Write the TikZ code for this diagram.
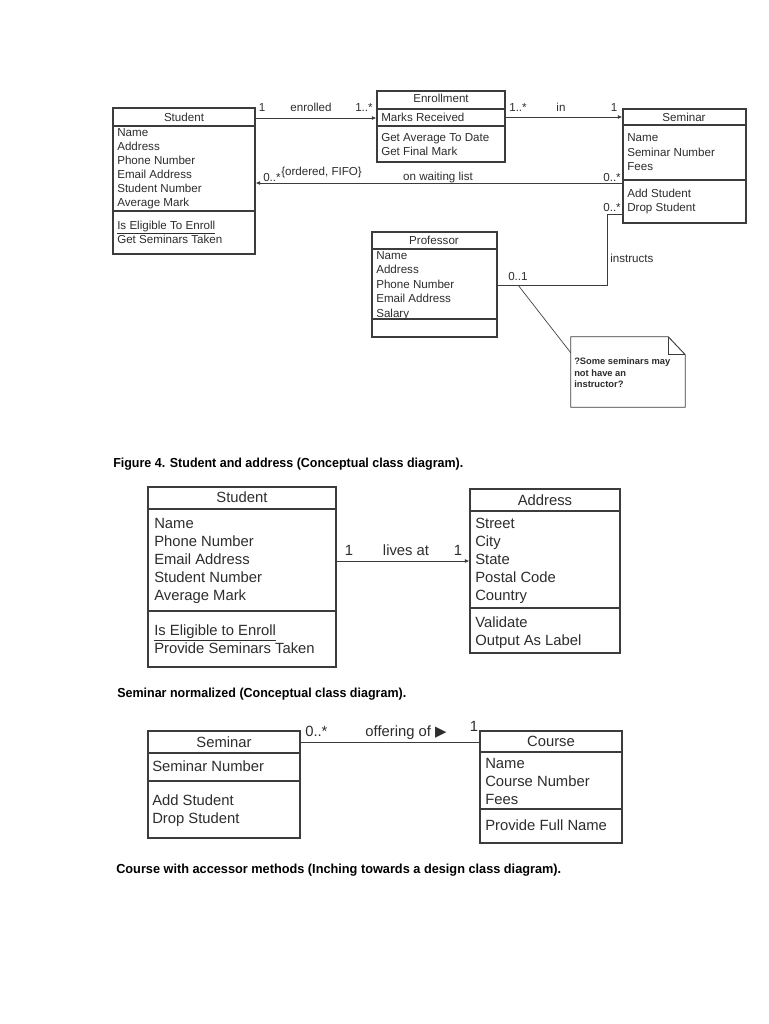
\documentclass[tikz,border=0pt]{standalone}
\usepackage{fontspec}
\setmainfont{Liberation Sans}
\newfontfamily\dejavu{DejaVu Sans}
\usetikzlibrary{fit,calc,arrows.meta}
\definecolor{txt}{RGB}{45,45,45}
\definecolor{linec}{RGB}{60,60,60}
\tikzset{
 cls/.style={draw=linec, line width=0.8pt, inner sep=0pt},
 sep/.style={draw=linec, line width=0.8pt},
 assoc/.style={draw=linec, line width=0.7pt},
 arr/.style={-{Latex[length=3.5pt,width=3pt]}},
 sm/.style={font=\fontsize{8.7}{10}\selectfont, text=txt, inner sep=0pt},
 lg/.style={font=\fontsize{11.1}{13}\selectfont, text=txt, inner sep=0pt},
 nt/.style={font=\fontsize{7}{8}\selectfont\bfseries, text=txt, inner sep=0pt, anchor=base west},
 captxt/.style={font=\fontsize{9.8}{12}\selectfont\bfseries, text=black, inner sep=0pt, anchor=base west},
}
\newcommand\capbox[2]{\resizebox{#1}{\height}{#2}}

\begin{document}
\begin{tikzpicture}[x=0.75pt,y=-0.75pt]
\fill[white] (0,0) rectangle (768,1024);
\useasboundingbox (0,0) rectangle (768,1024);

% ---------- Diagram 1 ----------
% Student
\node[cls, fit={(113,108)(255,254)}] (stu) {};
\draw[sep] (stu.west |- 0,126) -- (stu.east |- 0,126);
\draw[sep] (stu.west |- 0,211) -- (stu.east |- 0,211);
\node[sm, anchor=base] (stuH) at (184,121) {Student};
\foreach \t [count=\i] in {Name,Address,Phone Number,Email Address,Student Number,Average Mark}
  \node[sm, anchor=base west] (stuA\i) at (117,{136+14*(\i-1)}) {\t};
\node[sm, anchor=base west] (stuM1) at (117,229) {\underline{Is Eligible To Enroll}};
\node[sm, anchor=base west] (stuM2) at (117,243) {Get Seminars Taken};

% Enrollment
\node[cls, fit={(377,91)(505,162)}] (enr) {};
\draw[sep] (enr.west |- 0,109) -- (enr.east |- 0,109);
\draw[sep] (enr.west |- 0,126) -- (enr.east |- 0,126);
\node[sm, anchor=base] (enrH) at (441,103) {Enrollment};
\node[sm, anchor=base west] (enrA1) at (381,121) {Marks Received};
\node[sm, anchor=base west] (enrM1) at (381,141) {Get Average To Date};
\node[sm, anchor=base west] (enrM2) at (381,155) {Get Final Mark};

% Seminar
\node[cls, fit={(623,109)(746,223)}] (sem) {};
\draw[sep] (sem.west |- 0,125) -- (sem.east |- 0,125);
\draw[sep] (sem.west |- 0,180) -- (sem.east |- 0,180);
\node[sm, anchor=base] (semH) at (684,121) {Seminar};
\foreach \t [count=\i] in {Name,Seminar Number,Fees}
  \node[sm, anchor=base west] (semA\i) at (627,{142+14*(\i-1)}) {\t};
\node[sm, anchor=base west] (semM1) at (627,197) {Add Student};
\node[sm, anchor=base west] (semM2) at (627,211) {Drop Student};

% Professor
\node[cls, fit={(372,232)(497,337)}] (prof) {};
\draw[sep] (prof.west |- 0,249) -- (prof.east |- 0,249);
\draw[sep] (prof.west |- 0,319) -- (prof.east |- 0,319);
\node[sm, anchor=base] (profH) at (434,244) {Professor};
\foreach \t [count=\i] in {Name,Address,Phone Number,Email Address,Salary}
  \node[sm, anchor=base west] (profA\i) at (376,{259+14.5*(\i-1)}) {\t};

% associations
\draw[assoc, arr] (stu.east |- 0,118) -- (enr.west |- 0,118);
\node[sm, anchor=base] (l1a) at (262,112) {1};
\node[sm, anchor=base] (l1b) at (311,112) {enrolled};
\node[sm, anchor=base] (l1c) at (364,111) {1..*};

\draw[assoc, arr] (enr.east |- 0,117) -- (sem.west |- 0,117);
\node[sm, anchor=base] (l2a) at (518,111) {1..*};
\node[sm, anchor=base] (l2b) at (561,111) {in};
\node[sm, anchor=base] (l2c) at (614,111) {1};

\draw[assoc, arr] (sem.west |- 0,183) -- (stu.east |- 0,183);
\node[sm, anchor=base west] (l3a) at (263,181) {0..*};
\node[sm, anchor=base west] (l3b) at (281,175) {\{ordered, FIFO\}};
\node[sm, anchor=base] (l3c) at (438,180) {on waiting list};
\node[sm, anchor=base east] (l3d) at (621,181) {0..*};

\coordinate (ib1) at (607,214);
\coordinate (ib2) at (607,285);
\draw[assoc] (sem.west |- 0,214) -- (ib1) -- (ib2) -- (prof.east |- 0,285);
\node[sm, anchor=base east] (l4a) at (621,211) {0..*};
\node[sm, anchor=base west] (l4b) at (610,262) {instructs};
\node[sm, anchor=base west] (l4c) at (508,280) {0..1};

% Note
\node[inner sep=0pt, fit={(571,337)(685,407)}] (note) {};
\draw[assoc] (note.north west) -- ($(note.north east)+(-17,0)$) -- ($(note.north east)+(0,18)$) -- (note.south east) -- (note.south west) -- cycle;
\draw[assoc] ($(note.north east)+(-17,0)$) -- ($(note.north east)+(-17,18)$) -- ($(note.north east)+(0,18)$);
\node[nt] (nt1) at (574,364) {?Some seminars may};
\node[nt] (nt2) at (574,376) {not have an};
\node[nt] (nt3) at (574,387) {instructor?};
\coordinate (nc) at (518,285);
\draw[assoc, line width=0.5pt] (nc) -- ($(note.north west)+(0,16)$);

% ---------- Caption 1 ----------
\node[captxt] (cap1) at (113,467) {\capbox{262.5pt}{Figure 4. Student and address (Conceptual class diagram).}};

% ---------- Diagram 2 ----------
\node[cls, fit={(148,487)(336,667)}] (stu2) {};
\draw[sep] (stu2.west |- 0,509) -- (stu2.east |- 0,509);
\draw[sep] (stu2.west |- 0,611) -- (stu2.east |- 0,611);
\node[lg, anchor=base] (stu2H) at (242,502) {Student};
\foreach \t [count=\i] in {Name,Phone Number,Email Address,Student Number,Average Mark}
  \node[lg, anchor=base west] (stu2A\i) at (154,{528+18*(\i-1)}) {\t};
\node[lg, anchor=base west] (stu2M1) at (154,635) {\underline{Is Eligible to Enroll}};
\node[lg, anchor=base west] (stu2M2) at (154,653) {Provide Seminars Taken};

\node[cls, fit={(470,489)(620,653)}] (adr) {};
\draw[sep] (adr.west |- 0,511) -- (adr.east |- 0,511);
\draw[sep] (adr.west |- 0,608) -- (adr.east |- 0,608);
\node[lg, anchor=base] (adrH) at (545,505) {Address};
\foreach \t [count=\i] in {Street,City,State,Postal Code,Country}
  \node[lg, anchor=base west] (adrA\i) at (475,{528+18*(\i-1)}) {\t};
\node[lg, anchor=base west] (adrM1) at (475,627) {Validate};
\node[lg, anchor=base west] (adrM2) at (475,645) {Output As Label};

\draw[assoc, arr] (stu2.east |- 0,561) -- (adr.west |- 0,561);
\node[lg, anchor=base] (l5a) at (349,555) {1};
\node[lg, anchor=base] (l5b) at (406,555) {lives at};
\node[lg, anchor=base] (l5c) at (458,555) {1};

% ---------- Caption 2 ----------
\node[captxt] (cap2) at (117,697) {\capbox{216.75pt}{Seminar normalized (Conceptual class diagram).}};

% ---------- Diagram 3 ----------
\node[cls, fit={(148,731)(300,838)}] (sem3) {};
\draw[sep] (sem3.west |- 0,753) -- (sem3.east |- 0,753);
\draw[sep] (sem3.west |- 0,781) -- (sem3.east |- 0,781);
\node[lg, anchor=base] (sem3H) at (224,747) {Seminar};
\node[lg, anchor=base west] (sem3A1) at (152,771) {Seminar Number};
\node[lg, anchor=base west] (sem3M1) at (152,805) {Add Student};
\node[lg, anchor=base west] (sem3M2) at (152,823) {Drop Student};

\node[cls, fit={(480,731)(622,843)}] (crs) {};
\draw[sep] (crs.west |- 0,752) -- (crs.east |- 0,752);
\draw[sep] (crs.west |- 0,809) -- (crs.east |- 0,809);
\node[lg, anchor=base] (crsH) at (551,746) {Course};
\foreach \t [count=\i] in {Name,Course Number,Fees}
  \node[lg, anchor=base west] (crsA\i) at (485,{768+18*(\i-1)}) {\t};
\node[lg, anchor=base west] (crsM1) at (485,830) {Provide Full Name};

\draw[assoc] (sem3.east |- 0,742) -- (crs.west |- 0,742);
\node[lg, anchor=base west] (l6a) at (305,736) {0..*};
\node[lg, anchor=base] (l6b) at (406,736) {offering of {\dejavu ▶}};
\node[lg, anchor=base] (l6c) at (474,731) {1};

% ---------- Caption 3 ----------
\node[captxt] (cap3) at (116,873) {\capbox{333.75pt}{Course with accessor methods (Inching towards a design class diagram).}};
\end{tikzpicture}
\end{document}
